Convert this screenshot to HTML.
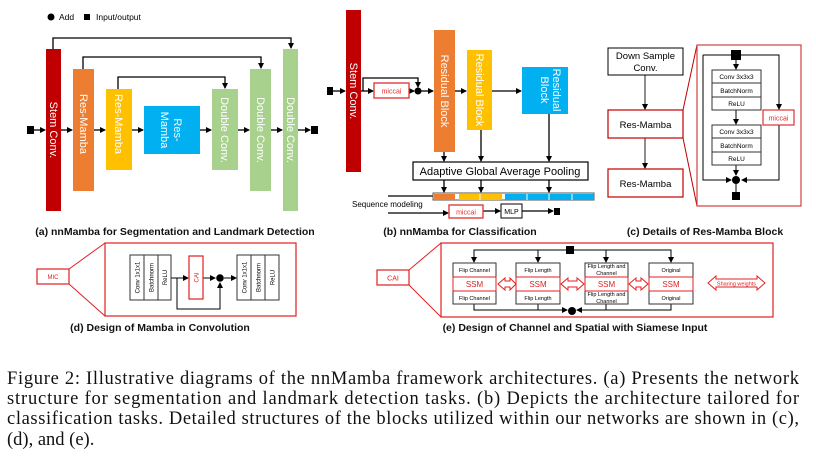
<!DOCTYPE html>
<html><head><meta charset="utf-8"><style>
html,body{margin:0;padding:0;background:#fff;width:816px;height:469px;overflow:hidden}
svg{display:block}
.c{font-family:"Liberation Sans",sans-serif;font-weight:bold;font-size:10.5px;fill:#111}
.t{font-family:"Liberation Sans",sans-serif}
.p{font-family:"Liberation Serif",serif;font-size:18.5px;fill:#111}
</style></head><body>
<svg width="816" height="469" viewBox="0 0 816 469" xmlns="http://www.w3.org/2000/svg">
<defs>
<marker id="a" markerWidth="6" markerHeight="6" refX="5" refY="3" orient="auto" markerUnits="userSpaceOnUse"><path d="M0,0 L6,3 L0,6z" fill="#000"/></marker>
</defs>
<g class="t">
<circle cx="51" cy="17" r="3.5" fill="#000"/><text x="59" y="20" font-size="8.5">Add</text>
<rect x="84" y="14" width="6" height="6" fill="#000"/><text x="96" y="20" font-size="8.5">Input/output</text>

<g stroke="#000" stroke-width="1.3" fill="none">
<path d="M53 49 V38 H291 V48" marker-end="url(#a)"/>
<path d="M83 69 V57 H261 V68" marker-end="url(#a)"/>
<path d="M118 89 V77 H225 V88" marker-end="url(#a)"/>
<path d="M34 130 H45" marker-end="url(#a)"/>
<path d="M61 130 H72" marker-end="url(#a)"/>
<path d="M94 130 H105" marker-end="url(#a)"/>
<path d="M132 130 H143" marker-end="url(#a)"/>
<path d="M200 130 H211" marker-end="url(#a)"/>
<path d="M238 130 H249" marker-end="url(#a)"/>
<path d="M271 130 H282" marker-end="url(#a)"/>
<path d="M298 130 H310" marker-end="url(#a)"/>
</g>
<rect x="27" y="126" width="7" height="8" fill="#000"/>
<rect x="311" y="126" width="7" height="8" fill="#000"/>
<rect x="46" y="49" width="15" height="162" fill="#c00000"/>
<rect x="73" y="69" width="21" height="122" fill="#ed7d31"/>
<rect x="106" y="89" width="26" height="81" fill="#ffc000"/>
<rect x="144" y="106" width="56" height="48" fill="#00b0f0"/>
<rect x="212" y="89" width="26" height="81" fill="#a9d18e"/>
<rect x="250" y="69" width="21" height="122" fill="#a9d18e"/>
<rect x="283" y="49" width="15" height="162" fill="#a9d18e"/>
<g fill="#fff" font-size="11">
<text transform="translate(50,130) rotate(90)" text-anchor="middle">Stem Conv.</text>
<text transform="translate(80,124) rotate(90)" text-anchor="middle">Res-Mamba</text>
<text transform="translate(115,124) rotate(90)" text-anchor="middle">Res-Mamba</text>
<text transform="translate(174,130) rotate(90)" text-anchor="middle">Res-</text>
<text transform="translate(161,130) rotate(90)" text-anchor="middle">Mamba</text>
<text transform="translate(221,130) rotate(90)" text-anchor="middle">Double Conv.</text>
<text transform="translate(257,130) rotate(90)" text-anchor="middle">Double Conv.</text>
<text transform="translate(287,130) rotate(90)" text-anchor="middle">Double Conv.</text>
</g>
<text class="c" x="175" y="235" text-anchor="middle">(a) nnMamba for Segmentation and Landmark Detection</text>

<g stroke="#000" stroke-width="1.3" fill="none">
<path d="M332 91 H345" marker-end="url(#a)"/>
<path d="M361 91 H373" marker-end="url(#a)"/>
<path d="M363 91 V78 H418 V87" marker-end="url(#a)"/>
<path d="M409 91 H414" marker-end="url(#a)"/>
<path d="M421 91 H433" marker-end="url(#a)"/>
<path d="M455 91 H466" marker-end="url(#a)"/>
<path d="M492 91 H521" marker-end="url(#a)"/>
<path d="M444 152 V161" marker-end="url(#a)"/>
<path d="M481 130 V161" marker-end="url(#a)"/>
<path d="M549 114 V161" marker-end="url(#a)"/>
<path d="M444 180 V192" marker-end="url(#a)"/>
<path d="M481 180 V192" marker-end="url(#a)"/>
<path d="M549 180 V192" marker-end="url(#a)"/>
<path d="M388 196 H433"/>
<path d="M388 213 H448" marker-end="url(#a)"/>
<path d="M483 211 H500" marker-end="url(#a)"/>
<path d="M522 211 H553" marker-end="url(#a)"/>
</g>
<rect x="327" y="87" width="6" height="8" fill="#000"/>
<circle cx="418" cy="91" r="3.5" fill="#000"/>
<rect x="346" y="10" width="15" height="162" fill="#c00000"/>
<rect x="374" y="83" width="35" height="15" fill="#fff" stroke="#e03030" stroke-width="1.3"/>
<text x="391.5" y="93.5" font-size="7" fill="#e03030" text-anchor="middle">miccai</text>
<rect x="434" y="30" width="21" height="122" fill="#ed7d31"/>
<rect x="467" y="50" width="25" height="80" fill="#ffc000"/>
<rect x="522" y="67" width="46" height="47" fill="#00b0f0"/>
<g fill="#fff" font-size="11">
<text transform="translate(350,91) rotate(90)" text-anchor="middle">Stem Conv.</text>
<text transform="translate(441,91) rotate(90)" text-anchor="middle">Residual Block</text>
<text transform="translate(476,90) rotate(90)" text-anchor="middle">Residual Block</text>
<text transform="translate(553,90) rotate(90)" text-anchor="middle">Residual</text>
<text transform="translate(541,90) rotate(90)" text-anchor="middle">Block</text>
</g>
<rect x="413" y="162" width="175" height="18" fill="#fff" stroke="#000" stroke-width="1.2"/>
<text x="500" y="175" font-size="11" text-anchor="middle">Adaptive Global Average Pooling</text>
<rect x="433" y="193" width="161" height="7" fill="#fff" stroke="#555" stroke-width="1"/>
<rect x="434" y="194" width="21" height="6" fill="#ed7d31"/>
<rect x="459" y="194" width="43" height="6" fill="#ffc000"/>
<rect x="505" y="194" width="89" height="6" fill="#00b0f0"/>
<g stroke="#fff" stroke-width="1"><path d="M480 194V200M527 194V200M549 194V200M572 194V200"/></g>
<text x="352" y="207" font-size="8">Sequence modeling</text>
<rect x="449" y="205" width="34" height="13" fill="#fff" stroke="#e03030" stroke-width="1.3"/>
<text x="466" y="214.5" font-size="7" fill="#e03030" text-anchor="middle">miccai</text>
<rect x="501" y="204" width="21" height="14" fill="#fff" stroke="#000" stroke-width="1"/>
<text x="511.5" y="214" font-size="7" text-anchor="middle">MLP</text>
<rect x="554" y="208" width="6" height="7" fill="#000"/>
<text class="c" x="460" y="235" text-anchor="middle">(b) nnMamba for Classification</text>

<g stroke="#444" stroke-width="1.2" fill="none">
<path d="M645 75 V109" marker-end="url(#a)"/>
<path d="M645 138 V168" marker-end="url(#a)"/>
</g>
<rect x="608" y="48" width="75" height="27" fill="#fff" stroke="#000" stroke-width="1"/>
<text x="645.5" y="59" font-size="9.5" text-anchor="middle">Down Sample</text>
<text x="645.5" y="71" font-size="9.5" text-anchor="middle">Conv.</text>
<rect x="608" y="110" width="75" height="28" fill="#fff" stroke="#c00000" stroke-width="1.2"/>
<text x="645.5" y="128" font-size="9.5" text-anchor="middle">Res-Mamba</text>
<rect x="608" y="169" width="75" height="28" fill="#fff" stroke="#c00000" stroke-width="1.2"/>
<text x="645.5" y="187" font-size="9.5" text-anchor="middle">Res-Mamba</text>
<path d="M683 110 L697 45 M683 138 L697 206" stroke="#c00000" stroke-width="1"/>
<rect x="697" y="45" width="104" height="161" fill="#fff" stroke="#d04040" stroke-width="1.2"/>
<g stroke="#000" stroke-width="1" fill="none">
<path d="M703 55 H779 V180 H742" marker-end="url(#a)"/>
<path d="M703 55 V180 H731" marker-end="url(#a)"/>
<path d="M779 55 V109" marker-end="url(#a)"/>
<path d="M736 58 V69" marker-end="url(#a)"/>
<path d="M736 110 V124" marker-end="url(#a)"/>
<path d="M736 165 V175" marker-end="url(#a)"/>
<path d="M736 184 V192"/>
</g>
<rect x="731" y="50" width="10" height="10" fill="#000"/>
<circle cx="736" cy="180" r="4" fill="#000"/>
<rect x="732" y="192" width="8" height="8" fill="#000"/>
<g fill="#fff" stroke="#333" stroke-width="1">
<rect x="712" y="70" width="49" height="13"/><rect x="712" y="83" width="49" height="14"/><rect x="712" y="97" width="49" height="13"/>
<rect x="712" y="125" width="49" height="13"/><rect x="712" y="138" width="49" height="14"/><rect x="712" y="152" width="49" height="13"/>
</g>
<g font-size="6.5" text-anchor="middle">
<text x="736.5" y="79">Conv 3x3x3</text><text x="736.5" y="93">BatchNorm</text><text x="736.5" y="106">ReLU</text>
<text x="736.5" y="134">Conv 3x3x3</text><text x="736.5" y="148">BatchNorm</text><text x="736.5" y="161">ReLU</text>
</g>
<rect x="763" y="110" width="31" height="15" fill="#fff" stroke="#e03030" stroke-width="1.2"/>
<text x="778.5" y="120.5" font-size="7" fill="#e03030" text-anchor="middle">miccai</text>
<text class="c" x="705" y="235" text-anchor="middle">(c) Details of Res-Mamba Block</text>

<rect x="37" y="269" width="32" height="15" fill="#fff" stroke="#e02020" stroke-width="1.2"/>
<text x="53" y="279" font-size="6" fill="#e02020" text-anchor="middle">MIC</text>
<path d="M69 269 L105 243 M69 284 L105 316" stroke="#e02020" stroke-width="1"/>
<rect x="105" y="243" width="191" height="73" fill="#fff" stroke="#e02020" stroke-width="1.2"/>
<g stroke="#000" stroke-width="1" fill="none">
<path d="M171 278 H188" marker-end="url(#a)"/>
<path d="M203 278 H215" marker-end="url(#a)"/>
<path d="M224 278 H236" marker-end="url(#a)"/>
<path d="M177 278 V309 H220 V283" marker-end="url(#a)"/>
</g>
<circle cx="220" cy="278" r="3.8" fill="#000"/>
<g fill="#fff" stroke="#333" stroke-width="1">
<rect x="130" y="255" width="14" height="45"/><rect x="144" y="255" width="14" height="45"/><rect x="158" y="255" width="13" height="45"/>
<rect x="237" y="255" width="14" height="45"/><rect x="251" y="255" width="14" height="45"/><rect x="265" y="255" width="14" height="45"/>
</g>
<rect x="189" y="256" width="14" height="43" fill="#fff" stroke="#e02020" stroke-width="1.2"/>
<g font-size="6" text-anchor="middle">
<text transform="translate(139.5,277.5) rotate(-90)">Conv 1x1x1</text>
<text transform="translate(153.5,277.5) rotate(-90)">Batchnorm</text>
<text transform="translate(167,277.5) rotate(-90)">ReLU</text>
<text transform="translate(246.5,277.5) rotate(-90)">Conv 1x1x1</text>
<text transform="translate(260.5,277.5) rotate(-90)">Batchnorm</text>
<text transform="translate(274.5,277.5) rotate(-90)">ReLU</text>
<text transform="translate(198.5,277.5) rotate(-90)" fill="#e02020">CAI</text>
</g>
<text class="c" x="160" y="331" text-anchor="middle">(d) Design of Mamba in Convolution</text>

<rect x="377" y="270" width="32" height="15" fill="#fff" stroke="#e02020" stroke-width="1.2"/>
<text x="393" y="280.5" font-size="7" fill="#e02020" text-anchor="middle">CAI</text>
<path d="M409 270 L441 243 M409 285 L441 317" stroke="#e02020" stroke-width="1"/>
<rect x="441" y="243" width="332" height="74" fill="#fff" stroke="#e02020" stroke-width="1.2"/>
<g stroke="#000" stroke-width="1" fill="none">
<path d="M474 262 V250 H671 V262"/>
<path d="M474 256 V262" marker-end="url(#a)"/>
<path d="M538 250 V262" marker-end="url(#a)"/>
<path d="M606 250 V262" marker-end="url(#a)"/>
<path d="M671 256 V262" marker-end="url(#a)"/>
<path d="M474 304 V310 H567" marker-end="url(#a)"/>
<path d="M538 304 V310"/>
<path d="M606 304 V310"/>
<path d="M671 304 V310 H577" marker-end="url(#a)"/>
</g>
<rect x="566" y="246" width="8" height="8" fill="#000"/>
<circle cx="572" cy="311" r="4" fill="#000"/>
<g fill="#fff" stroke="#333" stroke-width="1">
<rect x="453" y="263" width="43" height="14"/><rect x="453" y="291" width="43" height="13"/>
<rect x="516" y="263" width="44" height="14"/><rect x="516" y="291" width="44" height="13"/>
<rect x="585" y="263" width="43" height="14"/><rect x="585" y="291" width="43" height="13"/>
<rect x="649" y="263" width="44" height="14"/><rect x="649" y="291" width="44" height="13"/>
</g>
<g fill="#fff" stroke="#e02020" stroke-width="1">
<rect x="453" y="277" width="43" height="14"/><rect x="516" y="277" width="44" height="14"/>
<rect x="585" y="277" width="43" height="14"/><rect x="649" y="277" width="44" height="14"/>
<path d="M498 284 L505 278 V281 H510 V278 L516 284 L510 290 V287 H505 V290Z"/>
<path d="M561 284 L568 278 V281 H577 V278 L584 284 L577 290 V287 H568 V290Z"/>
<path d="M629 284 L636 278 V281 H641 V278 L648 284 L641 290 V287 H636 V290Z"/>
<path d="M708 283 L716 276 V279 H757 V276 L765 283 L757 290 V287 H716 V290Z"/>
</g>
<g font-size="5.5" text-anchor="middle">
<text x="474.5" y="272">Flip Channel</text><text x="474.5" y="300">Flip Channel</text>
<text x="538" y="272">Flip Length</text><text x="538" y="300">Flip Length</text>
<text x="606.5" y="268">Flip Length and</text><text x="606.5" y="275">Channel</text>
<text x="606.5" y="296">Flip Length and</text><text x="606.5" y="303">Channel</text>
<text x="671" y="272">Original</text><text x="671" y="300">Original</text>
<text x="736.5" y="285.5" fill="#e02020">Sharing weights</text>
</g>
<g font-size="8" fill="#e02020" text-anchor="middle">
<text x="474.5" y="287">SSM</text><text x="538" y="287">SSM</text><text x="606.5" y="287">SSM</text><text x="671" y="287">SSM</text>
</g>
<text class="c" x="575" y="331" text-anchor="middle">(e) Design of Channel and Spatial with Siamese Input</text>
</g>

<text class="p" x="7" y="384" textLength="792" lengthAdjust="spacing">Figure 2: Illustrative diagrams of the nnMamba framework architectures. (a) Presents the network</text>
<text class="p" x="7" y="404" textLength="792" lengthAdjust="spacing">structure for segmentation and landmark detection tasks. (b) Depicts the architecture tailored for</text>
<text class="p" x="7" y="424" textLength="792" lengthAdjust="spacing">classification tasks. Detailed structures of the blocks utilized within our networks are shown in (c),</text>
<text class="p" x="7" y="445">(d), and (e).</text>
</svg>
</body></html>
